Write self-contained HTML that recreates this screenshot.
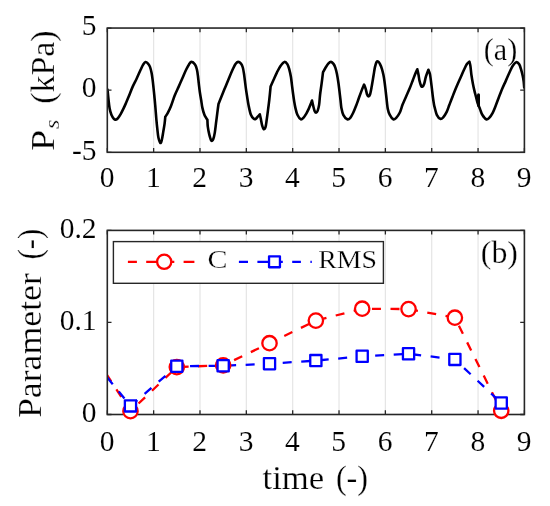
<!DOCTYPE html>
<html><head><meta charset="utf-8"><title>figure</title><style>
html,body{margin:0;padding:0;background:#fff;overflow:hidden;}
svg{display:block;}
text{font-family:"Liberation Serif","DejaVu Serif",serif;fill:#000;stroke:#fff;stroke-width:0.25px;}
.tk{stroke-width:0.1px;}
</style></head><body>
<svg width="550" height="506" viewBox="0 0 550 506">
<rect width="550" height="506" fill="#fff"/>
<defs><clipPath id="ct"><rect x="107.30" y="28.05" width="417.10" height="124.25"/></clipPath><clipPath id="cb"><rect x="107.30" y="230.40" width="417.10" height="184.10"/></clipPath></defs>
<path d="M153.64,28.05V152.30M199.99,28.05V152.30M246.33,28.05V152.30M292.68,28.05V152.30M339.02,28.05V152.30M385.37,28.05V152.30M431.71,28.05V152.30M478.06,28.05V152.30" stroke="#e5e5e5" stroke-width="1.2" fill="none"/>
<path d="M107.50,89.60 C107.67,91.25 108.15,96.38 108.50,99.50 C108.85,102.62 109.12,105.75 109.60,108.30 C110.08,110.85 110.68,113.05 111.40,114.80 C112.12,116.55 113.18,118.00 113.90,118.80 C114.62,119.60 115.05,119.68 115.70,119.60 C116.35,119.52 116.95,119.27 117.80,118.30 C118.65,117.33 119.80,115.53 120.80,113.80 C121.80,112.07 122.88,109.82 123.80,107.90 C124.72,105.98 125.48,104.18 126.30,102.30 C127.12,100.42 127.63,99.22 128.70,96.60 C129.77,93.98 131.38,89.58 132.70,86.60 C134.02,83.62 135.28,81.50 136.60,78.70 C137.92,75.90 139.53,72.10 140.60,69.80 C141.67,67.50 142.18,66.20 143.00,64.90 C143.82,63.60 144.67,62.22 145.50,62.00 C146.33,61.78 147.25,62.78 148.00,63.60 C148.75,64.42 149.40,65.33 150.00,66.90 C150.60,68.47 151.17,70.87 151.60,73.00 C152.03,75.13 152.28,77.27 152.60,79.70 C152.92,82.13 153.20,84.80 153.50,87.60 C153.80,90.40 154.12,93.60 154.40,96.50 C154.68,99.40 154.87,101.12 155.20,105.00 C155.53,108.88 156.03,115.70 156.40,119.80 C156.77,123.90 157.07,126.65 157.40,129.60 C157.73,132.55 157.90,135.27 158.40,137.50 C158.90,139.73 159.82,142.67 160.40,143.00 C160.98,143.33 161.42,141.40 161.90,139.50 C162.38,137.60 162.85,134.23 163.30,131.60 C163.75,128.97 164.27,126.17 164.60,123.70 C164.93,121.23 165.18,117.95 165.30,116.80 C165.72,116.13 166.88,114.52 167.80,112.80 C168.72,111.08 169.65,109.38 170.80,106.50 C171.95,103.62 173.38,98.82 174.70,95.50 C176.02,92.18 177.38,89.57 178.70,86.60 C180.02,83.63 181.37,80.50 182.60,77.70 C183.83,74.90 185.03,72.02 186.10,69.80 C187.17,67.58 188.10,65.72 189.00,64.40 C189.90,63.08 190.50,61.87 191.50,61.90 C192.50,61.93 194.10,63.33 195.00,64.60 C195.90,65.87 196.40,67.52 196.90,69.50 C197.40,71.48 197.68,74.13 198.00,76.50 C198.32,78.87 198.48,81.03 198.80,83.70 C199.12,86.37 199.50,89.73 199.90,92.50 C200.30,95.27 200.78,97.73 201.20,100.30 C201.62,102.87 201.87,105.48 202.40,107.90 C202.93,110.32 203.73,113.07 204.40,114.80 C205.07,116.53 205.90,117.47 206.40,118.30 C206.90,119.13 207.23,119.55 207.40,119.80 C207.47,120.95 207.48,124.23 207.80,126.70 C208.12,129.17 208.72,132.30 209.30,134.60 C209.88,136.90 210.63,139.77 211.30,140.50 C211.97,141.23 212.72,140.32 213.30,139.00 C213.88,137.68 214.32,135.48 214.80,132.60 C215.28,129.72 215.72,125.48 216.20,121.70 C216.68,117.92 217.32,112.85 217.70,109.90 C218.08,106.95 218.37,104.98 218.50,104.00 C219.03,102.67 220.52,98.93 221.70,96.00 C222.88,93.07 224.28,89.62 225.60,86.40 C226.92,83.18 228.37,79.63 229.60,76.70 C230.83,73.77 232.02,70.93 233.00,68.80 C233.98,66.67 234.67,65.05 235.50,63.90 C236.33,62.75 237.08,61.95 238.00,61.90 C238.92,61.85 240.20,62.67 241.00,63.60 C241.80,64.53 242.30,65.80 242.80,67.50 C243.30,69.20 243.65,71.60 244.00,73.80 C244.35,76.00 244.58,78.23 244.90,80.70 C245.22,83.17 245.53,85.97 245.90,88.60 C246.27,91.23 246.65,93.68 247.10,96.50 C247.55,99.32 247.97,102.45 248.60,105.50 C249.23,108.55 250.03,112.58 250.90,114.80 C251.77,117.02 252.98,118.13 253.80,118.80 C254.62,119.47 255.05,119.27 255.80,118.80 C256.55,118.33 257.63,116.75 258.30,116.00 C258.97,115.25 259.55,114.58 259.80,114.30 C259.97,115.05 260.40,116.90 260.80,118.80 C261.20,120.70 261.72,123.97 262.20,125.70 C262.68,127.43 263.15,128.95 263.70,129.20 C264.25,129.45 265.00,128.77 265.50,127.20 C266.00,125.63 266.30,122.52 266.70,119.80 C267.10,117.08 267.48,114.12 267.90,110.90 C268.32,107.68 268.75,104.55 269.20,100.50 C269.65,96.45 270.37,88.92 270.60,86.60 C271.10,85.45 272.53,82.08 273.60,79.70 C274.67,77.32 275.85,74.60 277.00,72.30 C278.15,70.00 279.25,67.63 280.50,65.90 C281.75,64.17 283.33,62.15 284.50,61.90 C285.67,61.65 286.68,63.08 287.50,64.40 C288.32,65.72 288.83,67.75 289.40,69.80 C289.97,71.85 290.48,74.23 290.90,76.70 C291.32,79.17 291.57,81.97 291.90,84.60 C292.23,87.23 292.52,89.68 292.90,92.50 C293.28,95.32 293.78,98.93 294.20,101.50 C294.62,104.07 294.87,105.68 295.40,107.90 C295.93,110.12 296.50,112.90 297.40,114.80 C298.30,116.70 299.73,118.88 300.80,119.30 C301.87,119.72 302.90,118.22 303.80,117.30 C304.70,116.38 305.38,115.20 306.20,113.80 C307.02,112.40 307.95,110.53 308.70,108.90 C309.45,107.27 310.15,105.40 310.70,104.00 C311.25,102.60 311.78,101.08 312.00,100.50 C312.20,101.40 312.77,104.15 313.20,105.90 C313.63,107.65 314.12,109.85 314.60,111.00 C315.08,112.15 315.60,112.82 316.10,112.80 C316.60,112.78 317.10,112.22 317.60,110.90 C318.10,109.58 318.68,107.63 319.10,104.90 C319.52,102.17 319.68,98.03 320.10,94.50 C320.52,90.97 321.12,87.40 321.60,83.70 C322.08,80.00 322.77,74.20 323.00,72.30 C323.42,71.55 324.58,69.28 325.50,67.80 C326.42,66.32 327.58,64.38 328.50,63.40 C329.42,62.42 330.17,61.82 331.00,61.90 C331.83,61.98 332.77,62.92 333.50,63.90 C334.23,64.88 334.83,66.15 335.40,67.80 C335.97,69.45 336.40,71.32 336.90,73.80 C337.40,76.28 337.98,79.90 338.40,82.70 C338.82,85.50 339.05,87.72 339.40,90.60 C339.75,93.48 340.17,97.12 340.50,100.00 C340.83,102.88 340.93,105.43 341.40,107.90 C341.87,110.37 342.32,112.90 343.30,114.80 C344.28,116.70 346.13,118.80 347.30,119.30 C348.47,119.80 349.32,118.88 350.30,117.80 C351.28,116.72 352.22,114.85 353.20,112.80 C354.18,110.75 355.28,107.88 356.20,105.50 C357.12,103.12 357.80,100.98 358.70,98.50 C359.60,96.02 360.70,92.92 361.60,90.60 C362.50,88.28 363.68,85.60 364.10,84.60 C364.35,85.27 365.10,86.95 365.60,88.60 C366.10,90.25 366.62,93.18 367.10,94.50 C367.58,95.82 368.02,96.50 368.50,96.50 C368.98,96.50 369.50,95.98 370.00,94.50 C370.50,93.02 370.92,90.72 371.50,87.60 C372.08,84.48 372.92,79.25 373.50,75.80 C374.08,72.35 374.48,69.20 375.00,66.90 C375.52,64.60 376.07,62.90 376.60,62.00 C377.13,61.10 377.65,61.18 378.20,61.50 C378.75,61.82 379.28,62.68 379.90,63.90 C380.52,65.12 381.32,66.98 381.90,68.80 C382.48,70.62 382.98,72.82 383.40,74.80 C383.82,76.78 384.07,78.40 384.40,80.70 C384.73,83.00 385.07,85.80 385.40,88.60 C385.73,91.40 386.00,94.12 386.40,97.50 C386.80,100.88 387.23,106.02 387.80,108.90 C388.37,111.78 388.88,113.07 389.80,114.80 C390.72,116.53 392.23,118.80 393.30,119.30 C394.37,119.80 395.13,118.88 396.20,117.80 C397.27,116.72 398.63,115.00 399.70,112.80 C400.77,110.60 401.53,107.32 402.60,104.60 C403.67,101.88 404.93,99.17 406.10,96.50 C407.27,93.83 408.45,91.40 409.60,88.60 C410.75,85.80 412.02,82.25 413.00,79.70 C413.98,77.15 414.78,75.03 415.50,73.30 C416.22,71.57 417.00,69.97 417.30,69.30 C417.50,70.22 418.13,72.90 418.50,74.80 C418.87,76.70 419.08,78.90 419.50,80.70 C419.92,82.50 420.52,84.62 421.00,85.60 C421.48,86.58 421.87,86.92 422.40,86.60 C422.93,86.28 423.62,85.35 424.20,83.70 C424.78,82.05 425.20,79.02 425.90,76.70 C426.60,74.38 427.98,70.95 428.40,69.80 C428.65,70.47 429.48,71.98 429.90,73.80 C430.32,75.62 430.57,78.23 430.90,80.70 C431.23,83.17 431.58,85.97 431.90,88.60 C432.22,91.23 432.45,93.85 432.80,96.50 C433.15,99.15 433.67,102.60 434.00,104.50 C434.33,106.40 434.33,106.18 434.80,107.90 C435.27,109.62 435.88,112.98 436.80,114.80 C437.72,116.62 439.23,118.38 440.30,118.80 C441.37,119.22 442.13,118.45 443.20,117.30 C444.27,116.15 445.67,113.98 446.70,111.90 C447.73,109.82 448.42,107.37 449.40,104.80 C450.38,102.23 451.40,99.53 452.60,96.50 C453.80,93.47 455.28,89.73 456.60,86.60 C457.92,83.47 459.27,80.50 460.50,77.70 C461.73,74.90 462.93,72.08 464.00,69.80 C465.07,67.52 466.00,65.37 466.90,64.00 C467.80,62.63 468.98,62.00 469.40,61.60 C469.57,62.32 470.07,63.70 470.40,65.90 C470.73,68.10 470.98,71.83 471.40,74.80 C471.82,77.77 472.40,81.07 472.90,83.70 C473.40,86.33 473.90,88.47 474.40,90.60 C474.90,92.73 475.40,94.53 475.90,96.50 C476.40,98.47 476.92,100.83 477.40,102.40 C477.88,103.97 478.32,104.65 478.80,105.90 C479.28,107.15 479.72,108.42 480.30,109.90 C480.88,111.38 481.32,113.23 482.30,114.80 C483.28,116.37 485.05,118.80 486.20,119.30 C487.35,119.80 488.12,118.88 489.20,117.80 C490.28,116.72 491.63,114.77 492.70,112.80 C493.77,110.83 494.72,108.22 495.60,106.00 C496.48,103.78 496.95,102.25 498.00,99.50 C499.05,96.75 500.58,92.65 501.90,89.50 C503.22,86.35 504.58,83.57 505.90,80.60 C507.22,77.63 508.65,74.17 509.80,71.70 C510.95,69.23 511.73,67.38 512.80,65.80 C513.87,64.22 515.13,62.45 516.20,62.20 C517.27,61.95 518.37,63.03 519.20,64.30 C520.03,65.57 520.62,67.90 521.20,69.80 C521.78,71.70 522.28,73.73 522.70,75.70 C523.12,77.67 523.45,79.63 523.70,81.60 C523.95,83.57 524.12,86.52 524.20,87.50" clip-path="url(#ct)" stroke="#000" stroke-width="2.6" fill="none" stroke-linejoin="round" stroke-linecap="round"/>
<path d="M478.5,94.8V105.5" stroke="#000" stroke-width="3.0" stroke-linecap="round"/>
<path d="M107.30,152.30v-4.20M107.30,28.05v4.20M153.64,152.30v-4.20M153.64,28.05v4.20M199.99,152.30v-4.20M199.99,28.05v4.20M246.33,152.30v-4.20M246.33,28.05v4.20M292.68,152.30v-4.20M292.68,28.05v4.20M339.02,152.30v-4.20M339.02,28.05v4.20M385.37,152.30v-4.20M385.37,28.05v4.20M431.71,152.30v-4.20M431.71,28.05v4.20M478.06,152.30v-4.20M478.06,28.05v4.20M524.40,152.30v-4.20M524.40,28.05v4.20M107.30,28.05h4.20M524.40,28.05h-4.20M107.30,90.18h4.20M524.40,90.18h-4.20M107.30,152.30h4.20M524.40,152.30h-4.20" stroke="#262626" stroke-width="1.3" fill="none"/>
<rect x="107.30" y="28.05" width="417.10" height="124.25" fill="none" stroke="#262626" stroke-width="1.60"/>
<path d="M153.64,230.40V414.50M199.99,230.40V414.50M246.33,230.40V414.50M292.68,230.40V414.50M339.02,230.40V414.50M385.37,230.40V414.50M431.71,230.40V414.50M478.06,230.40V414.50" stroke="#e5e5e5" stroke-width="1.2" fill="none"/>
<g clip-path="url(#cb)">
<path d="M84.13,339.60 L130.47,411.20 L176.82,367.10 L223.16,365.30 L269.51,343.20 L315.85,320.60 L362.19,308.70 L408.54,309.10 L454.88,317.70 L501.23,410.80" stroke="#ff0000" stroke-width="2.3" fill="none" stroke-dasharray="9 9.55" stroke-dashoffset="14.85"/>
<path d="M84.13,349.10 L130.47,405.90 L176.82,366.20 L223.16,365.80 L269.51,363.70 L315.85,360.60 L362.19,356.30 L408.54,353.80 L454.88,359.40 L501.23,403.00" stroke="#0000ff" stroke-width="2.3" fill="none" stroke-dasharray="9 9.55" stroke-dashoffset="0.85"/>
</g>
<path d="M107.30,414.50v-4.20M107.30,230.40v4.20M153.64,414.50v-4.20M153.64,230.40v4.20M199.99,414.50v-4.20M199.99,230.40v4.20M246.33,414.50v-4.20M246.33,230.40v4.20M292.68,414.50v-4.20M292.68,230.40v4.20M339.02,414.50v-4.20M339.02,230.40v4.20M385.37,414.50v-4.20M385.37,230.40v4.20M431.71,414.50v-4.20M431.71,230.40v4.20M478.06,414.50v-4.20M478.06,230.40v4.20M524.40,414.50v-4.20M524.40,230.40v4.20M107.30,230.40h4.20M524.40,230.40h-4.20M107.30,322.45h4.20M524.40,322.45h-4.20M107.30,414.50h4.20M524.40,414.50h-4.20" stroke="#262626" stroke-width="1.3" fill="none"/>
<rect x="107.30" y="230.40" width="417.10" height="184.10" fill="none" stroke="#262626" stroke-width="1.60"/>
<circle cx="130.47" cy="411.20" r="7.2" fill="#fff" stroke="#ff0000" stroke-width="2.3"/>
<circle cx="176.82" cy="367.10" r="7.2" fill="#fff" stroke="#ff0000" stroke-width="2.3"/>
<circle cx="223.16" cy="365.30" r="7.2" fill="#fff" stroke="#ff0000" stroke-width="2.3"/>
<circle cx="269.51" cy="343.20" r="7.2" fill="#fff" stroke="#ff0000" stroke-width="2.3"/>
<circle cx="315.85" cy="320.60" r="7.2" fill="#fff" stroke="#ff0000" stroke-width="2.3"/>
<circle cx="362.19" cy="308.70" r="7.2" fill="#fff" stroke="#ff0000" stroke-width="2.3"/>
<circle cx="408.54" cy="309.10" r="7.2" fill="#fff" stroke="#ff0000" stroke-width="2.3"/>
<circle cx="454.88" cy="317.70" r="7.2" fill="#fff" stroke="#ff0000" stroke-width="2.3"/>
<circle cx="501.23" cy="410.80" r="7.2" fill="#fff" stroke="#ff0000" stroke-width="2.3"/>
<rect x="124.87" y="400.30" width="11.2" height="11.2" fill="#fff" stroke="#0000ff" stroke-width="2.3" stroke-linejoin="round"/>
<rect x="171.22" y="360.60" width="11.2" height="11.2" fill="#fff" stroke="#0000ff" stroke-width="2.3" stroke-linejoin="round"/>
<rect x="217.56" y="360.20" width="11.2" height="11.2" fill="#fff" stroke="#0000ff" stroke-width="2.3" stroke-linejoin="round"/>
<rect x="263.91" y="358.10" width="11.2" height="11.2" fill="#fff" stroke="#0000ff" stroke-width="2.3" stroke-linejoin="round"/>
<rect x="310.25" y="355.00" width="11.2" height="11.2" fill="#fff" stroke="#0000ff" stroke-width="2.3" stroke-linejoin="round"/>
<rect x="356.59" y="350.70" width="11.2" height="11.2" fill="#fff" stroke="#0000ff" stroke-width="2.3" stroke-linejoin="round"/>
<rect x="402.94" y="348.20" width="11.2" height="11.2" fill="#fff" stroke="#0000ff" stroke-width="2.3" stroke-linejoin="round"/>
<rect x="449.28" y="353.80" width="11.2" height="11.2" fill="#fff" stroke="#0000ff" stroke-width="2.3" stroke-linejoin="round"/>
<rect x="495.63" y="397.40" width="11.2" height="11.2" fill="#fff" stroke="#0000ff" stroke-width="2.3" stroke-linejoin="round"/>
<rect x="113.4" y="241.6" width="270" height="41.7" fill="#fff" stroke="#262626" stroke-width="1.4"/>
<path d="M127.9,261.8H136.9M146.2,261.8H157M171,261.8H174.3M183.6,261.8H194.4" stroke="#ff0000" stroke-width="2.3"/>
<circle cx="164.2" cy="261.8" r="7.1" fill="#fff" stroke="#ff0000" stroke-width="2.3"/>
<path d="M238.9,261.8H248M257.4,261.8H268M281,261.8H282.8M292.2,261.8H300.9M310.4,261.8H311.8" stroke="#0000ff" stroke-width="2.3"/>
<rect x="269.05" y="256.35" width="10.9" height="10.9" fill="#fff" stroke="#0000ff" stroke-width="2.3" stroke-linejoin="round"/>
<text x="207.47" y="268.10" font-size="25.70" textLength="19.98" lengthAdjust="spacingAndGlyphs">C</text>
<text x="318.30" y="268.20" font-size="25.50" textLength="58.72" lengthAdjust="spacingAndGlyphs">RMS</text>
<text class="tk" x="107.00" y="187.4" font-size="29.5" text-anchor="middle">0</text>
<text class="tk" x="107.00" y="450.7" font-size="29.5" text-anchor="middle">0</text>
<text class="tk" x="153.34" y="187.4" font-size="29.5" text-anchor="middle">1</text>
<text class="tk" x="153.34" y="450.7" font-size="29.5" text-anchor="middle">1</text>
<text class="tk" x="199.69" y="187.4" font-size="29.5" text-anchor="middle">2</text>
<text class="tk" x="199.69" y="450.7" font-size="29.5" text-anchor="middle">2</text>
<text class="tk" x="246.03" y="187.4" font-size="29.5" text-anchor="middle">3</text>
<text class="tk" x="246.03" y="450.7" font-size="29.5" text-anchor="middle">3</text>
<text class="tk" x="292.38" y="187.4" font-size="29.5" text-anchor="middle">4</text>
<text class="tk" x="292.38" y="450.7" font-size="29.5" text-anchor="middle">4</text>
<text class="tk" x="338.72" y="187.4" font-size="29.5" text-anchor="middle">5</text>
<text class="tk" x="338.72" y="450.7" font-size="29.5" text-anchor="middle">5</text>
<text class="tk" x="385.07" y="187.4" font-size="29.5" text-anchor="middle">6</text>
<text class="tk" x="385.07" y="450.7" font-size="29.5" text-anchor="middle">6</text>
<text class="tk" x="431.41" y="187.4" font-size="29.5" text-anchor="middle">7</text>
<text class="tk" x="431.41" y="450.7" font-size="29.5" text-anchor="middle">7</text>
<text class="tk" x="477.76" y="187.4" font-size="29.5" text-anchor="middle">8</text>
<text class="tk" x="477.76" y="450.7" font-size="29.5" text-anchor="middle">8</text>
<text class="tk" x="524.10" y="187.4" font-size="29.5" text-anchor="middle">9</text>
<text class="tk" x="524.10" y="450.7" font-size="29.5" text-anchor="middle">9</text>
<text class="tk" x="96.6" y="35.30" font-size="29.5" text-anchor="end">5</text>
<text class="tk" x="96.6" y="97.40" font-size="29.5" text-anchor="end">0</text>
<text class="tk" x="96.6" y="159.60" font-size="29.5" text-anchor="end">-5</text>
<text class="tk" x="96.6" y="237.60" font-size="29.5" text-anchor="end">0.2</text>
<text class="tk" x="96.6" y="329.60" font-size="29.5" text-anchor="end">0.1</text>
<text class="tk" x="96.6" y="422.20" font-size="29.5" text-anchor="end">0</text>
<text x="483.77" y="60.30" font-size="30.50" textLength="33.56" lengthAdjust="spacingAndGlyphs">(a)</text>
<text x="480.80" y="263.30" font-size="30.50" textLength="37.10" lengthAdjust="spacingAndGlyphs">(b)</text>
<text x="262.56" y="489.30" font-size="33.00" textLength="61.74" lengthAdjust="spacingAndGlyphs">time</text>
<text x="335.88" y="489.30" font-size="34.00" textLength="32.24" lengthAdjust="spacingAndGlyphs">(-)</text>
<text transform="translate(41.00,417.10) rotate(-90)" x="-1.03" y="0" font-size="33.00" textLength="144.94" lengthAdjust="spacingAndGlyphs">Parameter</text>
<text transform="translate(41.00,258.10) rotate(-90)" x="-1.35" y="0" font-size="34.00" textLength="30.70" lengthAdjust="spacingAndGlyphs">(-)</text>
<text transform="translate(53.80,149.80) rotate(-90)" x="-1.10" y="0" font-size="33.00" textLength="21.23" lengthAdjust="spacingAndGlyphs">P</text>
<text transform="translate(58.70,128.60) rotate(-90)" x="-0.30" y="0" font-size="22.00" textLength="9.43" lengthAdjust="spacingAndGlyphs" font-style="italic">s</text>
<text transform="translate(54.00,102.30) rotate(-90)" x="-1.49" y="0" font-size="33.00" textLength="73.27" lengthAdjust="spacingAndGlyphs">(kPa)</text>
</svg>
</body></html>
